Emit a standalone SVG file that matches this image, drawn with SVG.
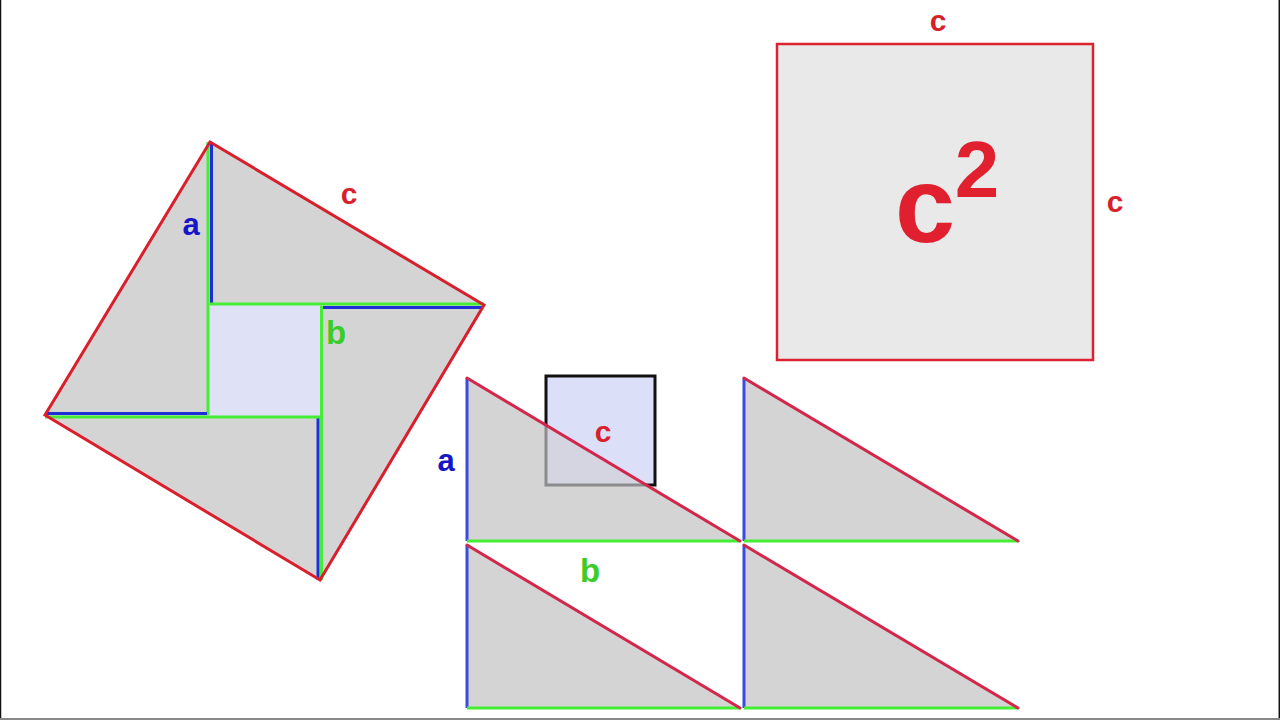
<svg xmlns="http://www.w3.org/2000/svg" width="1280" height="720" viewBox="0 0 1280 720">
<style>
.lbl{font-family:"Liberation Sans","DejaVu Sans",sans-serif;font-weight:bold;text-anchor:middle}
.red{stroke:#d81f2b;stroke-width:3;fill:none;stroke-linecap:round}
.hyp{stroke:#d4264a;stroke-width:3;fill:none;stroke-linecap:round}
.blue{stroke:#1f2fd8;stroke-width:3;fill:none}
.blue2{stroke:#3a4be0;stroke-width:3;fill:none}
.green{stroke:#45ee35;stroke-width:3;fill:none}
.tri{fill:#d5d4d5}
</style>
<rect width="1280" height="720" fill="#ffffff"/>
<line x1="0.5" y1="0" x2="0.5" y2="720" stroke="#111" stroke-width="1.5"/>
<line x1="1279.3" y1="0" x2="1279.3" y2="720" stroke="#111" stroke-width="1.5"/>
<line x1="0" y1="719" x2="1280" y2="719" stroke="#888" stroke-width="2"/>

<g id="tilted-square">
<polygon class="tri" points="210,142 484,305 320,580 45,415"/>
<rect x="209" y="305" width="111" height="111" fill="#dfe1f7"/>
<line class="green" x1="208" y1="142" x2="208" y2="415"/>
<line class="blue" x1="211.5" y1="142" x2="211.5" y2="304"/>
<line class="green" x1="210" y1="304" x2="484" y2="304"/>
<line class="blue" x1="320" y1="307.5" x2="482" y2="307.5"/>
<line class="green" x1="321.5" y1="306" x2="321.5" y2="580"/>
<line class="blue" x1="318" y1="418" x2="318" y2="580"/>
<line class="blue" x1="45" y1="413.5" x2="207" y2="413.5"/>
<line class="green" x1="45" y1="417" x2="321" y2="417"/>
<polygon class="red" points="210,142 484,305 320,580 45,415"/>
<text class="lbl" x="191" y="235" font-size="31" fill="#1616c8">a</text>
<text class="lbl" x="349" y="204" font-size="30" fill="#d81f2b">c</text>
<text class="lbl" x="336" y="344" font-size="33" fill="#3ccc28">b</text>
</g>

<g id="c-square">
<rect x="777" y="44" width="316" height="316" fill="#e9e9ea" stroke="#dc2130" stroke-width="2.5"/>
<text class="lbl" x="925" y="242" font-size="108" fill="#e01f2f">c</text>
<text class="lbl" x="977" y="197" font-size="80" fill="#e01f2f">2</text>
<text class="lbl" x="938" y="31" font-size="30" fill="#d81f2b">c</text>
<text class="lbl" x="1115" y="212" font-size="30" fill="#d81f2b">c</text>
</g>

<g id="triangle-1">
<polygon class="tri" points="467,378 467,541 740,541"/>
</g>
<g id="small-square">
<rect x="546" y="376" width="109" height="109" fill="#dcdff8" stroke="#111" stroke-width="3"/>
<polygon points="544,424.5 657,492 657,487 544,487" fill="#cfcfd3" opacity="0.65"/>
<text class="lbl" x="603" y="442" font-size="30" fill="#d81f2b">c</text>
</g>
<g id="triangle-1-edges">
<line class="blue2" x1="467" y1="378" x2="467" y2="541"/>
<line class="green" x1="467" y1="541" x2="740" y2="541"/>
<line class="hyp" x1="467" y1="378" x2="740" y2="541"/>
<text class="lbl" x="446" y="471" font-size="31" fill="#1616c8">a</text>
</g>

<g id="triangle-2">
<polygon class="tri" points="744,378 744,541 1018,541"/>
<line class="blue2" x1="744" y1="378" x2="744" y2="541"/>
<line class="green" x1="744" y1="541" x2="1018" y2="541"/>
<line class="hyp" x1="744" y1="378" x2="1018" y2="541"/>
</g>

<g id="triangle-3">
<polygon class="tri" points="467,545 467,708 740,708"/>
<line class="blue2" x1="467" y1="545" x2="467" y2="708"/>
<line class="green" x1="467" y1="708" x2="740" y2="708"/>
<line class="hyp" x1="467" y1="545" x2="740" y2="708"/>
<text class="lbl" x="590" y="582" font-size="33" fill="#3ccc28">b</text>
</g>

<g id="triangle-4">
<polygon class="tri" points="744,545 744,708 1018,708"/>
<line class="blue2" x1="744" y1="545" x2="744" y2="708"/>
<line class="green" x1="744" y1="708" x2="1018" y2="708"/>
<line class="hyp" x1="744" y1="545" x2="1018" y2="708"/>
</g>
</svg>
